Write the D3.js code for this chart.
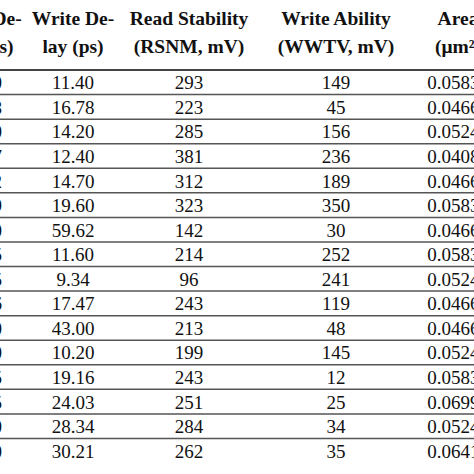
<!DOCTYPE html><html><head><meta charset="utf-8"><script src="https://cdn.jsdelivr.net/npm/d3@7"></script>
<style>body{margin:0;background:#fff}svg{display:block}text{font-family:"Liberation Serif","DejaVu Serif",serif;fill:#111}</style></head><body>
<script>
const col0 = ["…10","…08","…20","…27","…12","…19","…10","…15","…25","…16","…10","…10","…15","…15","…10","…10"];
const writeDelay = ["11.40","16.78","14.20","12.40","14.70","19.60","59.62","11.60","9.34","17.47","43.00","10.20","19.16","24.03","28.34","30.21"];
const readStab = [293,223,285,381,312,323,142,214,96,243,213,199,243,251,284,262];
const writeAb = [149,45,156,236,189,350,30,252,241,119,48,145,12,25,34,35];
const area = ["0.05831","0.04665","0.05248","0.04082","0.04665","0.05831","0.04665","0.05831","0.05248","0.04665","0.04665","0.05248","0.05831","0.06998","0.05248","0.06415"];
const headers = [["Read De-","lay (ps)"],["Write De-","lay (ps)"],["Read Stability","(RSNM, mV)"],["Write Ability","(WWTV, mV)"],["Area","(μm²)"]];
const cols = [col0, writeDelay, readStab, writeAb, area];
const W=474,H=474;
const svg=d3.select("body").append("svg").attr("width",W).attr("height",H);
const xc=i=>[-17,73,189,336,458][i];
const y=d3.scaleBand().domain(d3.range(16)).range([70,463]);
headers.forEach((h,i)=>{
  svg.append("text").attr("x",xc(i)).attr("y",25).attr("text-anchor","middle").attr("font-weight","bold").attr("font-size",19.5).text(h[0]);
  svg.append("text").attr("x",xc(i)).attr("y",53).attr("text-anchor","middle").attr("font-weight","bold").attr("font-size",19.5).text(h[1]);
});
svg.append("line").attr("x1",0).attr("x2",W).attr("y1",y.range()[0]).attr("y2",y.range()[0]).attr("stroke","#444").attr("stroke-width",2);
d3.range(16).forEach(r=>{
  cols.forEach((c,i)=>{
    svg.append("text").attr("x",xc(i)).attr("y",y(r)+y.bandwidth()/2+7).attr("text-anchor","middle").attr("font-size",19).text(c[r]);
  });
  if(r<15) svg.append("line").attr("x1",0).attr("x2",W).attr("y1",y(r)+y.bandwidth()).attr("y2",y(r)+y.bandwidth()).attr("stroke","#555").attr("stroke-width",1.5);
});
</script></body></html>
